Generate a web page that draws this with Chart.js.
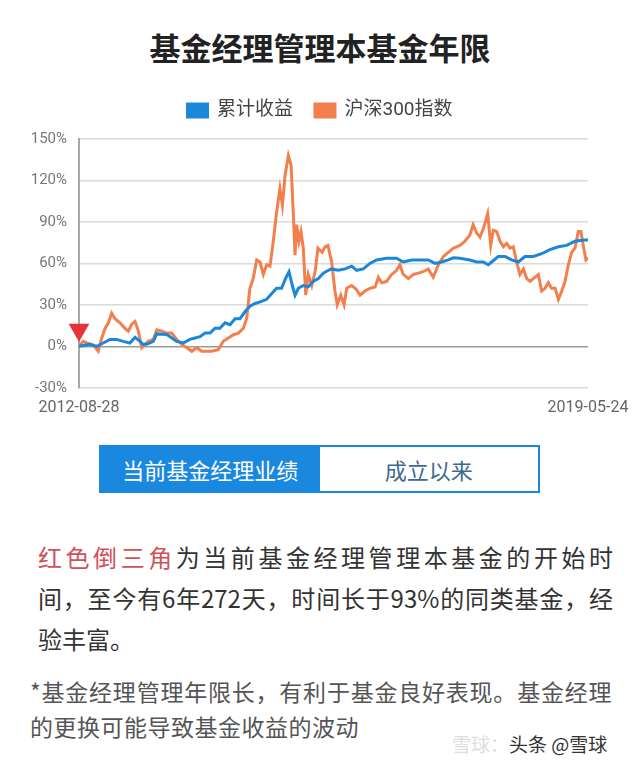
<!DOCTYPE html>
<html>
<head>
<meta charset="utf-8">
<script src="https://cdn.jsdelivr.net/npm/chart.js@4"></script>
<style>
  body { margin: 0; background: #fff; font-family: "Noto Sans CJK SC", Roboto, sans-serif; }
  #page { position: relative; width: 640px; height: 761px; overflow: hidden; }
  h1 { position: absolute; top: 27px; left: 0; width: 640px; margin: 0; text-align: center;
       font-size: 31px; font-weight: bold; color: #222; line-height: 40px; }
  #chartBox { position: absolute; top: 75px; left: 0; width: 640px; height: 352px; }
  #tabs { position: absolute; top: 445px; left: 99px; width: 441px; height: 48px; display: flex;
          border: 2px solid #1b88e0; box-sizing: border-box; }
  #tabs div { flex: 1; text-align: center; line-height: 44px; font-size: 22px; }
  #tabs .on { background: #1b88e0; color: #fff; }
  #tabs .off { background: #fff; color: #3d6a92; }
  .para { position: absolute; color: #333; }
  .para div { text-align: justify; text-align-last: justify; white-space: nowrap; }
  .para div.last { text-align-last: left; }
  #desc { top: 536px; left: 38px; width: 575px; font-size: 24px; line-height: 41px; }
  #desc .red { color: #d0505a; }
  #note { top: 674px; left: 30px; width: 582px; font-size: 23px; line-height: 35px; color: #555; letter-spacing: 0.5px; }
  #mark { position: absolute; top: 730px; left: 452px; font-size: 19px; color: #ddd; }
  #mark b { font-weight: normal; color: #333; }
</style>
</head>
<body>
<div id="page">
  <h1>基金经理管理本基金年限</h1>
  <div id="chartBox"><canvas id="chart"></canvas></div>
  <div id="tabs"><div class="on">当前基金经理业绩</div><div class="off">成立以来</div></div>
  <div id="desc" class="para">
    <div><span class="red">红色倒三角</span>为当前基金经理管理本基金的开始时</div>
    <div>间，至今有6年272天，时间长于93%的同类基金，经</div>
    <div class="last">验丰富。</div>
  </div>
  <div id="note" class="para">
    <div>*基金经理管理年限长，有利于基金良好表现。基金经理</div>
    <div class="last">的更换可能导致基金收益的波动</div>
  </div>
  <div id="mark">雪球：<b>头条 @雪球</b></div>
</div>
<script>
// days since 2012-08-28, cumulative return in %
const dateLabels = ['2012-08-28', '2019-05-24'];
const totalDays = 2460;

const fundDays = [0, 53, 86, 117, 150, 182, 214, 246, 271, 295, 309, 327, 359, 376, 424, 472, 504, 536, 561, 585,
  609, 633, 657, 681, 706, 730, 754, 778, 802, 826, 851, 883, 907, 931, 955, 979, 998, 1015, 1031, 1044,
  1060, 1084, 1108, 1132, 1157, 1181, 1205, 1221, 1253, 1286, 1318, 1342, 1374, 1406, 1438, 1487, 1535, 1567, 1608, 1648,
  1688, 1721, 1753, 1785, 1809, 1841, 1889, 1922, 1954, 1978, 1994, 2026, 2059, 2091, 2123, 2155, 2196, 2236, 2276, 2317,
  2357, 2397, 2437, 2460];
const fundReturn = [0, 1.5, 0, 2.4, 5, 5, 3.6, 2.4, 6.5, 3.6, 1.5, 1.5, 3.6, 9, 8.5, 3.6, 2.4, 5, 6, 7,
  9.6, 9.6, 13, 13, 17, 15.6, 20, 20, 25, 29, 31, 32.5, 34, 38, 42, 42, 49, 54, 44, 37,
  42, 44, 43, 47, 49, 53, 55, 56, 55, 56, 58, 55, 56, 60, 62.5, 63.7, 63.7, 61, 62.5, 62.5,
  62.5, 60, 61, 62.5, 64, 63.7, 62.5, 61, 61, 59, 61, 65, 65, 62.5, 61, 65, 65, 67, 70, 72,
  73, 76, 77, 77];

const indexDays = [0, 21, 45, 69, 93, 110, 126, 142, 158, 174, 198, 222, 238, 255, 271, 287, 303, 319, 335, 359,
  376, 400, 424, 448, 472, 496, 521, 545, 569, 593, 617, 641, 673, 697, 722, 746, 770, 794, 810, 826,
  842, 859, 875, 891, 907, 923, 939, 955, 971, 983, 996, 1012, 1025, 1036, 1044, 1052, 1063, 1073, 1084, 1096,
  1108, 1125, 1141, 1155, 1175, 1189, 1203, 1221, 1237, 1248, 1265, 1281, 1294, 1318, 1342, 1358, 1382, 1406, 1431, 1447,
  1463, 1487, 1511, 1535, 1551, 1567, 1592, 1616, 1640, 1664, 1688, 1712, 1737, 1761, 1785, 1809, 1841, 1865, 1889, 1905,
  1922, 1938, 1954, 1975, 1990, 2002, 2019, 2035, 2051, 2067, 2083, 2099, 2115, 2131, 2148, 2164, 2180, 2196, 2220, 2236,
  2252, 2268, 2284, 2301, 2317, 2333, 2349, 2365, 2381, 2397, 2413, 2426, 2437, 2450, 2460];
const indexReturn = [0, 3.6, 2, 1, -3.6, 6, 13, 17, 24, 20, 17, 13, 11, 16, 18, 11, -1, 1.5, 3.6, 5,
  12, 11, 9.6, 9.6, 5, 1.5, -1, -3.6, -1, -3.6, -3.6, -3.6, -2.5, 3.6, 6, 8.4, 9.6, 13, 20, 42,
  49, 62.5, 61, 52, 59, 58, 76, 97, 114, 102, 124, 138, 131, 95, 66, 88, 76, 83, 71, 37,
  52, 44, 54, 71, 68, 72, 73, 61, 40, 30, 37, 30, 42, 44, 41, 37, 40, 42, 43, 50,
  46, 47, 52, 55, 59, 52, 49, 52, 53, 54, 56, 50, 59, 65, 68, 71, 73, 76, 80.5, 88,
  82, 79, 85, 96, 73, 84, 83, 76, 72, 74.5, 71, 72, 61, 52, 56, 49, 47, 49, 52, 40,
  42, 46, 42, 42, 34, 40, 47, 59, 68, 71, 83, 83, 73, 62.5, 64];

// start of the current manager's tenure
const managerStart = [{ x: 0, y: 12 }];

const seriesNames = ['累计收益', '沪深300指数'];
const blue = '#1b87d9';
const orange = '#f27f4c';

function pairs(xs, ys) {
  return xs.map((x, i) => ({ x: x, y: ys[i] }));
}

const legendSpacer = {
  id: 'legendSpacer',
  beforeInit(chart) {
    const fit = chart.legend.fit;
    chart.legend.fit = function() {
      fit.bind(chart.legend)();
      this.height += 9;
    };
  }
};

new Chart(document.getElementById('chart'), {
  type: 'line',
  data: {
    datasets: [{
      label: seriesNames[0],
      data: pairs(fundDays, fundReturn),
      borderColor: blue,
      backgroundColor: blue,
      borderWidth: 3,
      pointRadius: 0
    }, {
      label: seriesNames[1],
      data: pairs(indexDays, indexReturn),
      borderColor: orange,
      backgroundColor: orange,
      borderWidth: 3,
      pointRadius: 0
    }, {
      label: 'start',
      data: managerStart,
      showLine: false,
      pointStyle: 'triangle',
      rotation: 180,
      pointRadius: 12,
      pointBorderWidth: 0,
      backgroundColor: '#e8323a',
      borderColor: '#e8323a',
      clip: false
    }]
  },
  options: {
    responsive: true,
    maintainAspectRatio: false,
    animation: false,
    layout: { padding: { left: 0, right: 0, top: 4, bottom: 6 } },
    plugins: {
      legend: {
        labels: {
          boxWidth: 20,
          boxHeight: 13,
          padding: 22,
          color: '#444',
          font: { size: 19, family: 'Roboto, "Noto Sans CJK SC"' },
          filter: item => item.datasetIndex < 2
        }
      },
      tooltip: { enabled: false }
    },
    scales: {
      x: {
        type: 'linear',
        min: 0,
        max: totalDays,
        afterBuildTicks: scale => { scale.ticks = [{ value: 0 }, { value: totalDays }]; },
        ticks: {
          color: '#666',
          font: { size: 16, family: 'Roboto' },
          padding: 3,
          maxRotation: 0,
          callback: v => v === 0 ? dateLabels[0] : dateLabels[1]
        },
        grid: { display: false },
        border: { display: false }
      },
      y: {
        min: -30,
        max: 150,
        afterFit: scale => { scale.width = 79; },
        ticks: {
          stepSize: 30,
          color: '#777',
          font: { size: 15, family: 'Roboto' },
          padding: 12,
          callback: v => v + '%'
        },
        grid: {
          drawTicks: false,
          lineWidth: 1.5,
          color: ctx => ctx.tick && ctx.tick.value === 0 ? '#9a9a9a' : '#dadada'
        },
        border: { display: true, color: '#a8a8a8', width: 2 }
      },
      // empty right-hand axis that only keeps room for the end date label
      yRight: {
        position: 'right',
        min: -30,
        max: 150,
        afterFit: scale => { scale.width = 52; },
        ticks: { display: false },
        grid: { display: false },
        border: { display: false }
      }
    }
  },
  plugins: [legendSpacer]
});
</script>
</body>
</html>
